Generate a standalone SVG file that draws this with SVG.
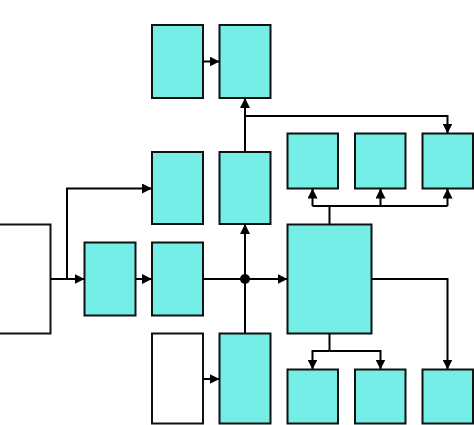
<svg xmlns="http://www.w3.org/2000/svg" width="474" height="425" viewBox="0 0 474 425">
<style>
.n{fill:#74EEE6;stroke:#111;stroke-width:2}
.w{fill:#fff;stroke:#111;stroke-width:2}
.c{fill:none;stroke:#000;stroke-width:2}
</style>
<defs>
<marker id="a" viewBox="0 0 10 10" refX="10" refY="5" markerWidth="10" markerHeight="10" markerUnits="userSpaceOnUse" orient="auto">
<path d="M0,0L10,5L0,10z" fill="#000"/>
</marker>
</defs>
<rect width="474" height="425" fill="#fff"/>
<g id="nodes">
<g id="n1"><rect class="n" x="152" y="25" width="51" height="73"/></g>
<g id="n2"><rect class="n" x="219.5" y="25" width="51" height="73"/></g>
<g id="n3"><rect class="n" x="152" y="152" width="51" height="72"/></g>
<g id="n4"><rect class="n" x="219.5" y="152" width="51" height="72"/></g>
<g id="n5"><rect class="w" x="-10" y="224.5" width="60.5" height="109"/></g>
<g id="n6"><rect class="n" x="84.5" y="242.5" width="51" height="73"/></g>
<g id="n7"><rect class="n" x="152" y="242.5" width="51" height="73"/></g>
<g id="n8"><rect class="w" x="152" y="333.5" width="51" height="90"/></g>
<g id="n9"><rect class="n" x="219.5" y="333.5" width="51" height="90"/></g>
<g id="n10"><rect class="n" x="287.5" y="224.5" width="84" height="109"/></g>
<g id="n11"><rect class="n" x="287.5" y="133.5" width="50.5" height="55"/></g>
<g id="n12"><rect class="n" x="355" y="133.5" width="50.5" height="55"/></g>
<g id="n13"><rect class="n" x="422.5" y="133.5" width="50.5" height="55"/></g>
<g id="n14"><rect class="n" x="287.5" y="369.5" width="50.5" height="54"/></g>
<g id="n15"><rect class="n" x="355" y="369.5" width="50.5" height="54"/></g>
<g id="n16"><rect class="n" x="422.5" y="369.5" width="50.5" height="54"/></g>
</g>
<g id="connectors">
<path class="c" d="M203,61.5H219.5" marker-end="url(#a)"/>
<path class="c" d="M245,152V98" marker-end="url(#a)"/>
<path class="c" d="M245,116H447.5V133.5" marker-end="url(#a)"/>
<path class="c" d="M50.5,279H84.5" marker-end="url(#a)"/>
<path class="c" d="M67,279V188.5H152" marker-end="url(#a)"/>
<path class="c" d="M135.5,279H152" marker-end="url(#a)"/>
<path class="c" d="M203,279H287.5" marker-end="url(#a)"/>
<path class="c" d="M245,333.5V224" marker-end="url(#a)"/>
<path class="c" d="M203,379H219.5" marker-end="url(#a)"/>
<path class="c" d="M329.5,224.5V206"/>
<path class="c" d="M312.5,206H447.5"/>
<path class="c" d="M312.5,206V188.5" marker-end="url(#a)"/>
<path class="c" d="M380.5,206V188.5" marker-end="url(#a)"/>
<path class="c" d="M447.5,206V188.5" marker-end="url(#a)"/>
<path class="c" d="M371.5,279H447.5V369.5" marker-end="url(#a)"/>
<path class="c" d="M329.5,333.5V351"/>
<path class="c" d="M329.5,351H312.5V369.5" marker-end="url(#a)"/>
<path class="c" d="M329.5,351H380.5V369.5" marker-end="url(#a)"/>
<circle cx="245" cy="279" r="5" fill="#000"/>
</g>
</svg>
